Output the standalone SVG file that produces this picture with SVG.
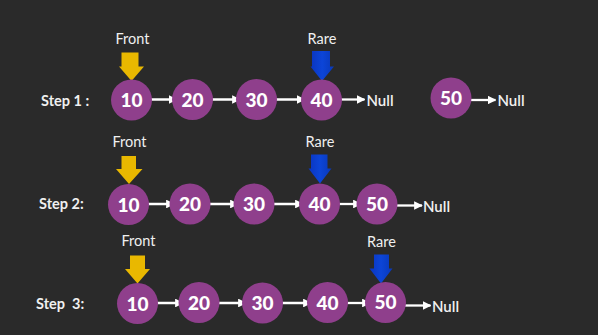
<svg xmlns="http://www.w3.org/2000/svg" width="598" height="335" viewBox="0 0 598 335">
<style>
.bg{fill:#2a2a2a}
.node circle{fill:#8f3f8c}
.node text{fill:#ffffff;font-family:Lato,"Liberation Sans",sans-serif;font-weight:900;font-size:19px;text-anchor:middle}
.lbl{fill:#f0f0f0;font-family:Lato,"Liberation Sans",sans-serif;font-size:14.5px;text-anchor:middle}
.null{fill:#f0f0f0;font-family:Lato,"Liberation Sans",sans-serif;font-size:15px;font-weight:600}
.step{fill:#f0f0f0;font-family:Lato,"Liberation Sans",sans-serif;font-size:14.5px;font-weight:bold}
.conn line{stroke:#ffffff;stroke-width:2.3;marker-end:url(#ah)}
.front{fill:#e9b800}
.rare{fill:url(#bg2)}
</style>
<defs>
<marker id="ah" viewBox="0 0 10 10" refX="9" refY="5" markerWidth="3.8" markerHeight="3.8" orient="auto" markerUnits="strokeWidth">
<path d="M0,0 L10,5 L0,10 z" fill="#ffffff"/>
</marker>
<linearGradient id="bg2" x1="0" y1="0" x2="1" y2="0">
<stop offset="0" stop-color="#0a35c0"/>
<stop offset="0.5" stop-color="#0c45d8"/>
<stop offset="1" stop-color="#0838b8"/>
</linearGradient>
</defs>
<rect class="bg" x="0" y="0" width="598" height="335"/>

<!-- Step labels -->
<text class="step" x="41" y="106">Step 1 :</text>
<text class="step" x="39" y="209">Step 2:</text>
<text class="step" x="36" y="309" xml:space="preserve">Step  3:</text>

<!-- pointers -->
<g id="front1"><text class="lbl" x="132.5" y="44">Front</text><path class="front" d="M121.5,52.5 H138.5 V66.5 H144 L131.5,81 L119,66.5 H121.5 Z"/></g>
<g id="rare1"><text class="lbl" x="322" y="44">Rare</text><path class="rare" d="M312,51 H330 V66.5 H334 L322,81 L310.5,66.5 H312 Z"/></g>
<g id="front2"><text class="lbl" x="129.5" y="146.5">Front</text><path class="front" d="M121.5,156 H136 V169 H142.5 L129,184 L116,169 H121.5 Z"/></g>
<g id="rare2"><text class="lbl" x="320" y="146.5">Rare</text><path class="rare" d="M311,154.5 H327.5 V168.5 H331.5 L320,183.5 L308.5,168.5 H311 Z"/></g>
<g id="front3"><text class="lbl" x="138.5" y="246">Front</text><path class="front" d="M130,255.5 H145 V269 H150 L137.5,283.5 L125,269 H130 Z"/></g>
<g id="rare3"><text class="lbl" x="381.5" y="246.5">Rare</text><path class="rare" d="M374,254.5 H389 V268.5 H392.5 L381,283.5 L369.5,268.5 H374 Z"/></g>

<!-- connectors -->
<g class="conn" id="connectors">
<line x1="143" y1="99.5" x2="176.5" y2="99.5"/>
<line x1="205" y1="99.5" x2="240" y2="99.5"/>
<line x1="269" y1="99.5" x2="304.5" y2="99.5"/>
<line x1="334" y1="99.5" x2="364.5" y2="99.5"/>
<line x1="465" y1="100" x2="495.5" y2="100"/>

<line x1="140" y1="204" x2="174" y2="204"/>
<line x1="202" y1="204" x2="238" y2="204"/>
<line x1="266" y1="204" x2="303" y2="204"/>
<line x1="331" y1="204" x2="361" y2="204"/>
<line x1="391.5" y1="205.5" x2="422" y2="205.5"/>

<line x1="149" y1="303" x2="183" y2="303"/>
<line x1="211" y1="303" x2="246" y2="303"/>
<line x1="274" y1="303" x2="311" y2="303"/>
<line x1="340" y1="303" x2="370" y2="303"/>
<line x1="400" y1="305.5" x2="430.5" y2="305.5"/>
</g>

<!-- Null labels -->
<text class="null" x="366.5" y="105.5">Null</text>
<text class="null" x="497.5" y="105.5">Null</text>
<text class="null" x="423" y="211.5">Null</text>
<text class="null" x="432" y="311.5">Null</text>

<!-- nodes row 1 -->
<g id="r1n10" class="node"><circle cx="131.5" cy="100" r="20.5"/><text x="131.5" y="107">10</text></g>
<g id="r1n20" class="node"><circle cx="192.5" cy="99.5" r="20.5"/><text x="192.5" y="106.5">20</text></g>
<g id="r1n30" class="node"><circle cx="256.5" cy="99.5" r="20.5"/><text x="256.5" y="106.5">30</text></g>
<g id="r1n40" class="node"><circle cx="321.5" cy="100" r="20.5"/><text x="321.5" y="107">40</text></g>
<g id="r1n50" class="node"><circle cx="451" cy="98" r="20.5"/><text x="451" y="104.5">50</text></g>

<!-- nodes row 2 -->
<g id="r2n10" class="node"><circle cx="128.5" cy="204.5" r="20.5"/><text x="128.5" y="211.5">10</text></g>
<g id="r2n20" class="node"><circle cx="190" cy="204" r="20.5"/><text x="190" y="211">20</text></g>
<g id="r2n30" class="node"><circle cx="254" cy="204" r="20.5"/><text x="254" y="211">30</text></g>
<g id="r2n40" class="node"><circle cx="319.5" cy="204" r="20.5"/><text x="319.5" y="211">40</text></g>
<g id="r2n50" class="node"><circle cx="377" cy="204" r="20.5"/><text x="377" y="210.5">50</text></g>

<!-- nodes row 3 -->
<g id="r3n10" class="node"><circle cx="137.5" cy="303.5" r="20.5"/><text x="137.5" y="310.5">10</text></g>
<g id="r3n20" class="node"><circle cx="199" cy="302.5" r="20.5"/><text x="199" y="309.5">20</text></g>
<g id="r3n30" class="node"><circle cx="262.5" cy="303" r="20.5"/><text x="262.5" y="310">30</text></g>
<g id="r3n40" class="node"><circle cx="327.5" cy="302.5" r="20.5"/><text x="327.5" y="309.5">40</text></g>
<g id="r3n50" class="node"><circle cx="385.5" cy="302.5" r="20.5"/><text x="385.5" y="309">50</text></g>
</svg>
